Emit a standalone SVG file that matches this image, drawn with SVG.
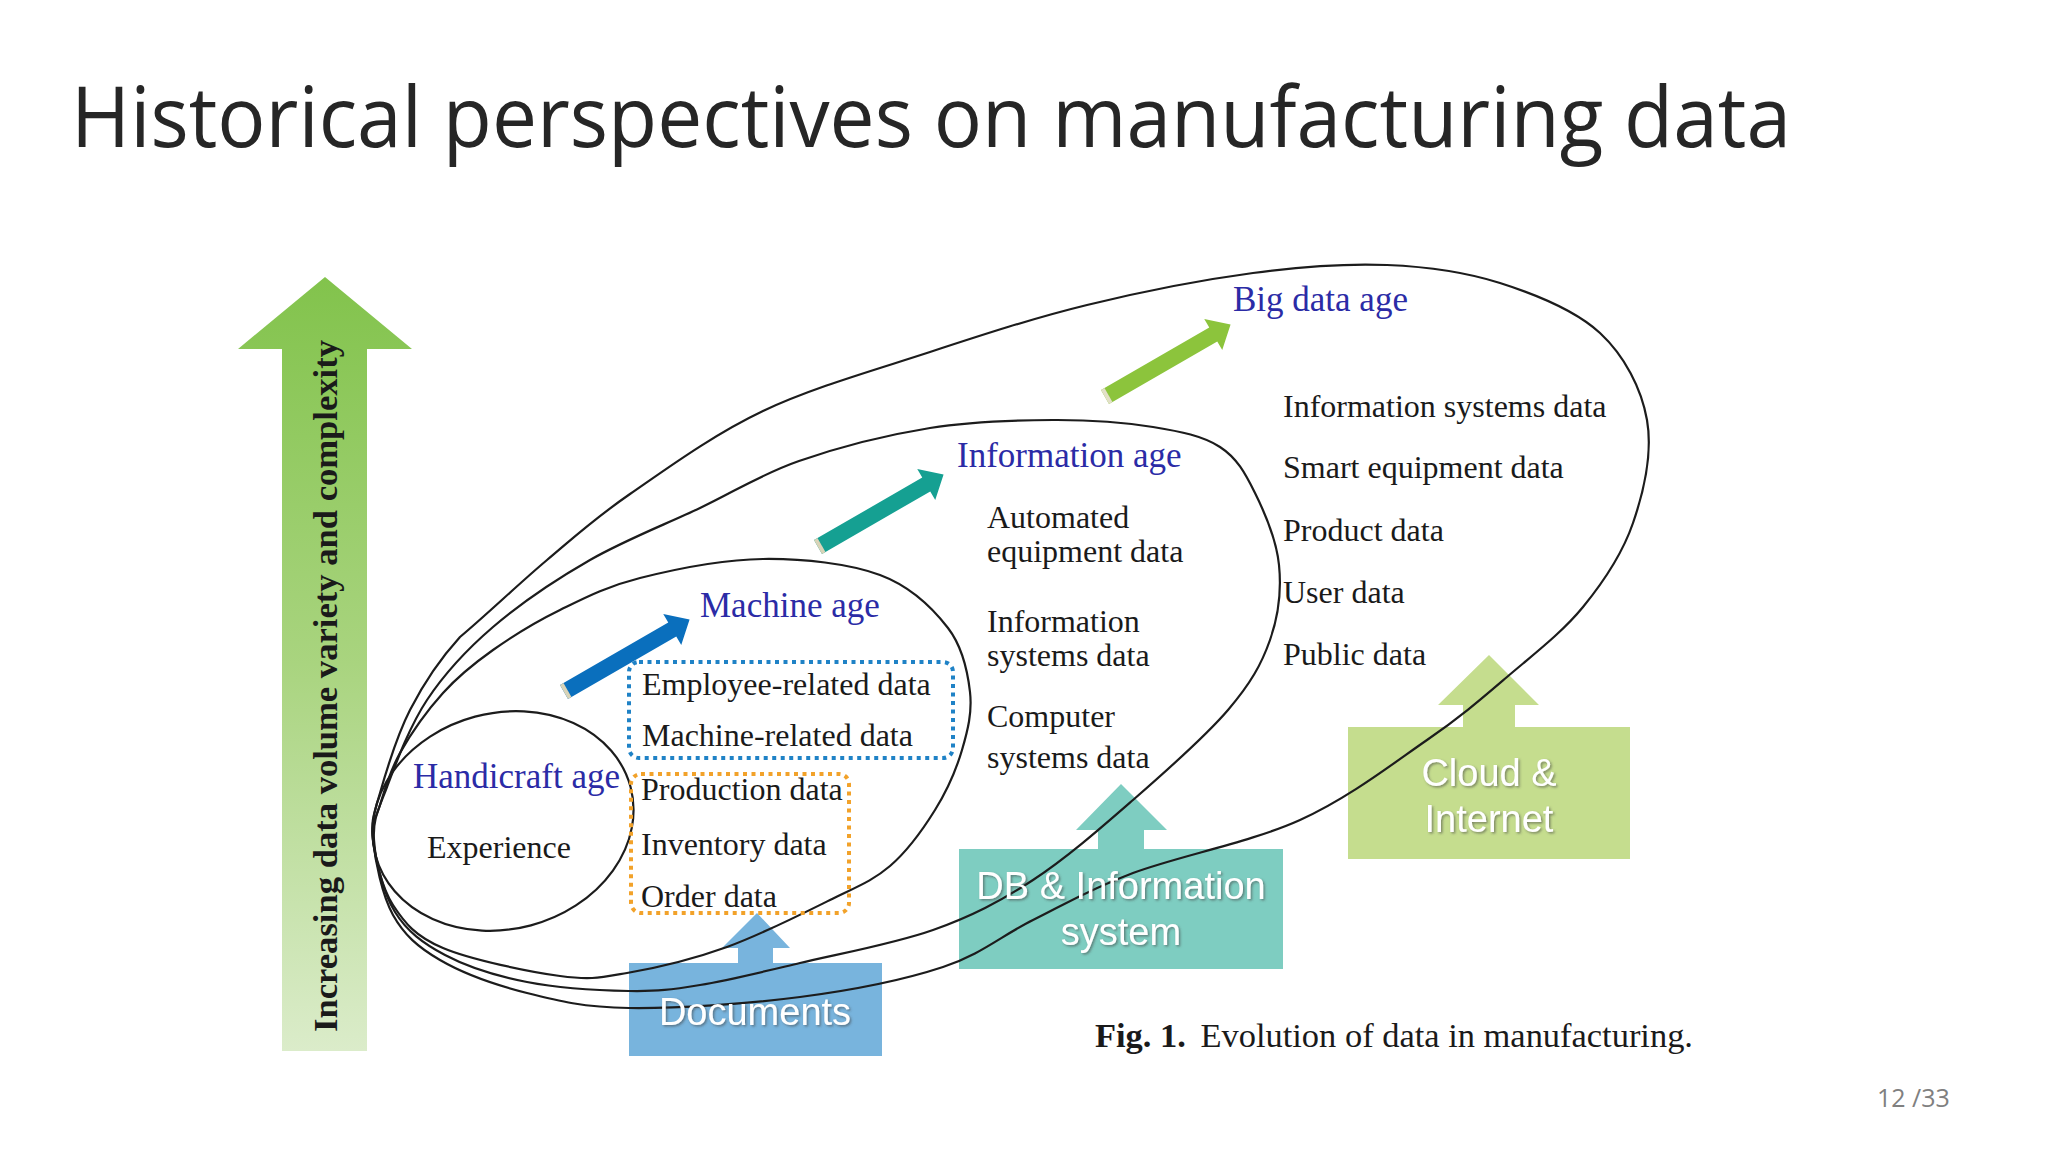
<svg xmlns="http://www.w3.org/2000/svg" width="2048" height="1152" viewBox="0 0 2048 1152">
<defs>
<style>
.title{font-family:"Open Sans","Noto Sans","Liberation Sans",sans-serif;font-size:85px;fill:#262626}
.age{font-family:"Liberation Serif","DejaVu Serif",serif;font-size:35px;fill:#2b2ba6}
.body{font-family:"Liberation Serif","DejaVu Serif",serif;font-size:32px;fill:#1a1a1a}
.box{font-family:"Liberation Sans","Arial",sans-serif;font-size:38px;fill:#ffffff;text-anchor:middle;filter:url(#ts)}
.curve{fill:none;stroke:#1c1c1c;stroke-width:2.2}
.dot{fill:none;stroke-width:4;stroke-dasharray:4 4.5}
.cap{font-family:"Liberation Serif","DejaVu Serif",serif;font-size:33px;fill:#1a1a1a}
</style>
<linearGradient id="gUp" x1="0" y1="277" x2="0" y2="1051" gradientUnits="userSpaceOnUse">
<stop offset="0" stop-color="#82c34c"/>
<stop offset="0.5" stop-color="#a9d47f"/>
<stop offset="1" stop-color="#dbecca"/>
</linearGradient>
<filter id="ts" x="-10%" y="-30%" width="120%" height="160%">
<feDropShadow dx="1.5" dy="1.5" stdDeviation="1" flood-color="#404040" flood-opacity="0.55"/>
</filter>
<path id="arr" d="M0,-8 L125,-8 L125,-18 L145,0 L125,18 L125,8 L0,8 Z"/>
</defs>
<rect width="2048" height="1152" fill="#ffffff"/>

<text class="title" x="71" y="147" textLength="1720" lengthAdjust="spacingAndGlyphs">Historical perspectives on manufacturing data</text>

<g id="axis-arrow">
<path d="M325,277 L412,349 L367,349 L367,1051 L282,1051 L282,349 L238,349 Z" fill="url(#gUp)"/>
<text x="337" y="1032" transform="rotate(-90 337 1032)" textLength="692" lengthAdjust="spacingAndGlyphs" style="font-family:'Liberation Serif','DejaVu Serif',serif;font-size:34px;font-weight:bold;fill:#1a1a1a">Increasing data volume variety and complexity</text>
</g>

<g id="box-documents">
<path d="M757,913 L790,948 L773,948 L773,963 L738,963 L738,948 L722,948 Z" fill="#78b4dd"/>
<rect x="629" y="963" width="253" height="93" fill="#78b4dd"/>
</g>
<g id="box-db">
<path d="M1121,784 L1167,830 L1144,830 L1144,849 L1098,849 L1098,830 L1076,830 Z" fill="#7ecdc1"/>
<rect x="959" y="849" width="324" height="120" fill="#7ecdc1"/>
</g>
<g id="box-cloud">
<path d="M1489,655 L1539,705 L1515,705 L1515,727 L1463,727 L1463,705 L1438,705 Z" fill="#c5dd8e"/>
<rect x="1348" y="727" width="282" height="132" fill="#c5dd8e"/>
</g>

<g id="connectors">
<path id="bigdata-curve" class="curve" d="M373,840 C370.8,819.7 373.8,814.7 380,793 C386.2,771.3 396.7,736 410,710 C423.3,684 437.2,662 460,637 C488.3,613.2 518.7,583.8 547,560 C575.3,536.2 594,518.8 630,494 C666,469.2 713,434.7 763,411 C813,387.3 876,369.7 930,352 C984,334.3 1033.2,318.2 1087,305 C1140.8,291.8 1203,279.7 1253,273 C1303,266.3 1345.8,263.3 1387,265 C1428.2,266.7 1464.5,271.7 1500,283 C1535.5,294.3 1575.5,310.2 1600,333 C1624.5,355.8 1641.5,388.3 1647,420 C1652.5,451.7 1643.7,491.8 1633,523 C1622.3,554.2 1604,581.3 1583,607 C1562,632.7 1533,654.8 1507,677 C1481,699.2 1461.5,716.2 1427,740 C1392.5,763.8 1349,797.8 1300,820 C1251,842.2 1177.5,856.3 1133,873 C1088.5,889.7 1064.7,904.3 1033,920 C1001.3,935.7 981.8,954.2 943,967 C904.2,979.8 852.3,990.2 800,997 C747.7,1003.8 674.5,1008.7 629,1008 C583.5,1007.3 558.5,1001 527,993 C495.5,985 462.3,973 440,960 C417.7,947 404.2,935 393,915 C381.8,895 375.2,860.3 373,840 Z"/>
<path id="info-curve" class="curve" d="M374,840 C372.7,819.2 378.2,810.3 387,787 C395.8,763.7 409.3,726.7 427,700 C444.7,673.3 465.8,650.3 493,627 C520.2,603.7 555.5,579.8 590,560 C624.5,540.2 665.2,524.5 700,508 C734.8,491.5 760.7,474.3 799,461 C837.3,447.7 887.7,434.8 930,428 C972.3,421.2 1015.8,420.2 1053,420 C1090.2,419.8 1125.2,422.5 1153,427 C1180.8,431.5 1203,436 1220,447 C1237,458 1245.2,473.3 1255,493 C1264.8,512.7 1276.5,540.5 1279,565 C1281.5,589.5 1278.5,615.8 1270,640 C1261.5,664.2 1250.8,683.3 1228,710 C1205.2,736.7 1165.5,771.7 1133,800 C1100.5,828.3 1066.3,858.3 1033,880 C999.7,901.7 971.8,916.2 933,930 C894.2,943.8 838.8,953.8 800,963 C761.2,972.2 728.5,980.3 700,985 C671.5,989.7 657.8,991.5 629,991 C600.2,990.5 557.7,988 527,982 C496.3,976 467,966.7 445,955 C423,943.3 406.8,931.2 395,912 C383.2,892.8 375.3,860.8 374,840 Z"/>
<path id="machine-curve" class="curve" d="M373,840 C370.8,823.3 375.5,819.5 380,805 C384.5,790.5 389.5,771.7 400,753 C410.5,734.3 427.5,710.2 443,693 C458.5,675.8 473.5,663.8 493,650 C512.5,636.2 535.5,622 560,610 C584.5,598 606.2,586.5 640,578 C673.8,569.5 723,559.5 763,559 C803,558.5 849.2,563.5 880,575 C910.8,586.5 933,608.5 948,628 C963,647.5 967.7,671.7 970,692 C972.3,712.3 967.8,730.3 962,750 C956.2,769.7 947,790.7 935,810 C923,829.3 907.5,851 890,866 C872.5,881 857.2,886.5 830,900 C802.8,913.5 760.8,934.8 727,947 C693.2,959.2 654.8,968.2 627,973 C599.2,977.8 590.7,980.2 560,976 C529.3,971.8 470.8,959.8 443,948 C415.2,936.2 404.7,923 393,905 C381.3,887 375.2,856.7 373,840 Z"/>
<ellipse id="handicraft-curve" class="curve" cx="503" cy="821" rx="132" ry="108" transform="rotate(-15 503 821)"/>
</g>

<g id="arrow-machine" transform="translate(564 692) rotate(-30)">
<use href="#arr" fill="#0a6fbd"/>
<rect x="0" y="-8" width="4" height="16" fill="#d9d4b8"/>
</g>
<g id="arrow-information" transform="translate(818 547) rotate(-30)">
<use href="#arr" fill="#15a092"/>
<rect x="0" y="-8" width="4" height="16" fill="#d9d4b8"/>
</g>
<g id="arrow-bigdata" transform="translate(1105 397) rotate(-30)">
<use href="#arr" fill="#8cc43c"/>
<rect x="0" y="-8" width="4" height="16" fill="#e2e0c8"/>
</g>

<g id="node-handicraft">
<text class="age" x="413" y="788">Handicraft age</text>
<text class="body" x="427" y="858">Experience</text>
</g>

<g id="node-machine">
<text class="age" x="700" y="617">Machine age</text>
<rect class="dot" x="629" y="662" width="324" height="96" rx="10" stroke="#1f82c6"/>
<text class="body" x="642" y="695">Employee-related data</text>
<text class="body" x="642" y="746">Machine-related data</text>
<rect class="dot" x="631" y="774" width="218" height="139" rx="10" stroke="#f2a22a"/>
<text class="body" x="641" y="800">Production data</text>
<text class="body" x="641" y="855">Inventory data</text>
<text class="body" x="641" y="907">Order data</text>
</g>

<g id="node-information">
<text class="age" x="957" y="467">Information age</text>
<text class="body" x="987" y="528">Automated</text>
<text class="body" x="987" y="562">equipment data</text>
<text class="body" x="987" y="632">Information</text>
<text class="body" x="987" y="666">systems data</text>
<text class="body" x="987" y="727">Computer</text>
<text class="body" x="987" y="768">systems data</text>
</g>

<g id="node-bigdata">
<text class="age" x="1233" y="311">Big data age</text>
<text class="body" x="1283" y="417">Information systems data</text>
<text class="body" x="1283" y="478">Smart equipment data</text>
<text class="body" x="1283" y="541">Product data</text>
<text class="body" x="1283" y="603">User data</text>
<text class="body" x="1283" y="665">Public data</text>
</g>

<g id="label-documents">
<text class="box" x="755" y="1025">Documents</text>
</g>
<g id="label-db">
<text class="box" x="1121" y="899">DB &amp; Information</text>
<text class="box" x="1121" y="945">system</text>
</g>
<g id="label-cloud">
<text class="box" x="1489" y="786">Cloud &amp;</text>
<text class="box" x="1489" y="832">Internet</text>
</g>

<g id="caption">
<text class="cap" x="1095" y="1047" textLength="598" lengthAdjust="spacingAndGlyphs"><tspan font-weight="bold">Fig. 1.</tspan><tspan dx="14">Evolution of data in manufacturing.</tspan></text>
</g>

<text x="1877" y="1107" style="font-family:'Open Sans','Noto Sans',sans-serif;font-size:25px;fill:#808080">12  /33</text>
</svg>
